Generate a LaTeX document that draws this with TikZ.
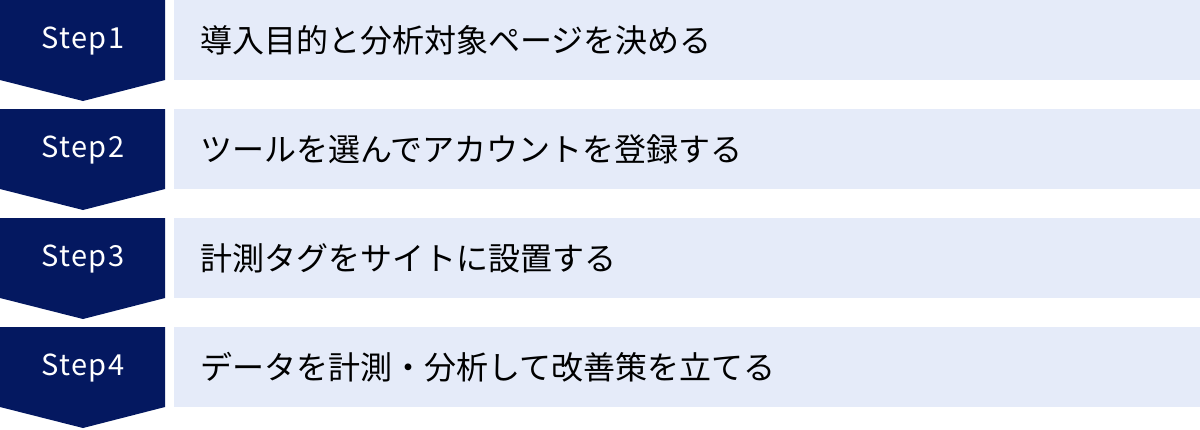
\documentclass[tikz,border=0pt]{standalone}
\usepackage{fontspec}
\usepackage{xcolor}
\usepackage{tikz}
\setmainfont{Noto Sans CJK JP}
\definecolor{stepnavy}{RGB}{4, 24, 96}
\definecolor{lblue}{RGB}{229, 235, 249}
\tikzset{
	chevron/.style = {fill = stepnavy},
	steplabel/.style = {text = white, font = \fontsize{29}{29}\selectfont\addfontfeature{LetterSpace=5}},
	taskbox/.style = {fill = lblue, anchor = north west, minimum height = 80pt,
		text width = 974pt, inner xsep = 26pt, inner ysep = 0pt, align = left,
		font = \fontsize{32}{32}\selectfont}
}

\begin{document}
\begin{tikzpicture}[x = 1pt, y = -1pt]
		\useasboundingbox (0,0) rectangle (1200,429);
		% step arrows
		\fill[chevron] (0,0) -- (165,0) -- (165,80) -- (83,101) -- (0,80) -- cycle;
		\fill[chevron] (0,109) -- (165,109) -- (165,189) -- (83,210) -- (0,189) -- cycle;
		\fill[chevron] (0,218) -- (165,218) -- (165,298) -- (83,319) -- (0,298) -- cycle;
		\fill[chevron] (0,327) -- (165,327) -- (165,407) -- (83,428) -- (0,407) -- cycle;
		\node (s1) at (83,41) [steplabel] {Step1};
		\node (s2) at (83,150) [steplabel] {Step2};
		\node (s3) at (83,259) [steplabel] {Step3};
		\node (s4) at (83,368) [steplabel] {Step4};
		% tasks
		\node (t1) at (174,0) [taskbox] {導入目的と分析対象ページを決める};
		\node (t2) at (174,109) [taskbox] {ツールを選んでアカウントを登録する};
		\node (t3) at (174,218) [taskbox] {計測タグをサイトに設置する};
		\node (t4) at (174,327) [taskbox] {データを計測・分析して改善策を立てる};
		\end{tikzpicture}
\end{document}
